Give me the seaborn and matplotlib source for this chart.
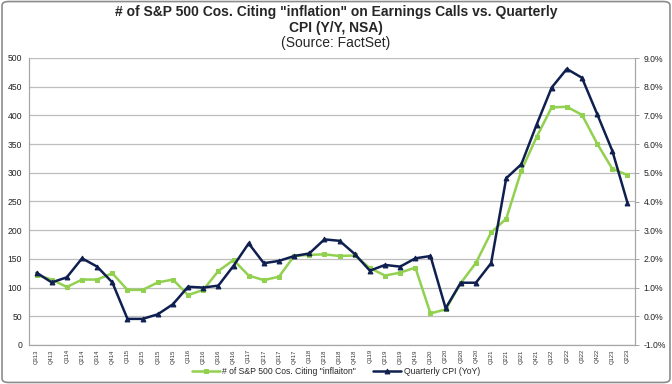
import matplotlib
matplotlib.use("Agg")
import matplotlib.pyplot as plt
from matplotlib.patches import FancyBboxPatch
from matplotlib.ticker import FuncFormatter, MultipleLocator
import pandas as pd
import seaborn as sns

# quarter labels, Q3 2013 .. Q2 2023
quarters = ["Q313", "Q413",
            "Q114", "Q214", "Q314", "Q414",
            "Q115", "Q215", "Q315", "Q415",
            "Q116", "Q216", "Q316", "Q416",
            "Q117", "Q217", "Q317", "Q417",
            "Q118", "Q218", "Q318", "Q418",
            "Q119", "Q219", "Q319", "Q419",
            "Q120", "Q220", "Q320", "Q420",
            "Q121", "Q221", "Q321", "Q421",
            "Q122", "Q222", "Q322", "Q422",
            "Q123", "Q223"]

# number of S&P 500 companies citing "inflation"
cos_citing = [122, 114, 101, 114, 114, 125, 96, 96, 109, 114,
              87, 96, 129, 148, 121, 113, 119, 155, 157, 158,
              155, 156, 134, 121, 126, 135, 55, 62, 108, 143,
              196, 220, 304, 362, 414, 415, 401, 351, 307, 296]

# quarterly CPI, Y/Y %
cpi_yoy = [1.52, 1.18, 1.36, 2.02, 1.73, 1.18, -0.09, -0.09, 0.07, 0.42,
           1.03, 1.00, 1.07, 1.76, 2.54, 1.85, 1.93, 2.10, 2.19, 2.68,
           2.63, 2.17, 1.59, 1.79, 1.73, 2.02, 2.10, 0.28, 1.17, 1.17,
           1.85, 4.81, 5.30, 6.67, 7.97, 8.62, 8.31, 7.05, 5.77, 3.96]

GREEN = "#92d050"
NAVY = "#0f1f4f"

df = pd.DataFrame({"pos": range(len(quarters)), "quarter": quarters,
                   "cos": cos_citing, "cpi": cpi_yoy})

sns.set_style("white")
plt.rcParams["font.family"] = ["Liberation Sans", "DejaVu Sans"]

fig = plt.figure(figsize=(6.72, 3.84), dpi=100)
ax = fig.add_axes([29 / 672, 1 - 345 / 384, 606 / 672, 287 / 384])
ax2 = ax.twinx()

sns.lineplot(data=df, x="pos", y="cos", ax=ax, color=GREEN, lw=1.8,
             marker="s", markersize=3.5, markeredgecolor=GREEN,
             label='# of S&P 500 Cos. Citing "inflaiton"', legend=False)
sns.lineplot(data=df, x="pos", y="cpi", ax=ax2, color=NAVY, lw=1.8,
             marker="^", markersize=3.5, markeredgecolor=NAVY,
             label="Quarterly CPI (YoY)", legend=False)

ax.set_xlim(-0.5, len(quarters) - 0.5)
ax.set_ylim(0, 500)
ax.yaxis.set_major_locator(MultipleLocator(50))
ax2.set_ylim(-1, 9)
ax2.yaxis.set_major_locator(MultipleLocator(1))
ax2.yaxis.set_major_formatter(FuncFormatter(lambda v, p: f"{v:.1f}%"))

ax.set_xticks(df["pos"])
ax.set_xticklabels(quarters, rotation=90, fontsize=4.2, color="#333333")
ax.tick_params(axis="x", length=0, pad=3)
ax.tick_params(axis="y", labelsize=6.2, length=0, pad=5, labelcolor="#222222")
ax2.tick_params(axis="y", labelsize=6.2, length=3, width=0.6, color="#999999",
                pad=3, labelcolor="#222222", right=True)

ax.grid(axis="y", color="#bdbdbd", lw=0.9)
ax.grid(axis="x", visible=False)
ax2.grid(False)
ax.set_zorder(ax2.get_zorder() - 1)
ax.patch.set_visible(True)
ax2.patch.set_visible(False)
for a in (ax, ax2):
    a.set_xlabel("")
    a.set_ylabel("")
    for side in ["left", "right", "bottom"]:
        a.spines[side].set_color("#a6a6a6")
        a.spines[side].set_linewidth(0.8)
    a.spines["top"].set_visible(False)

fig.text(0.5, 1 - 12 / 384,
         '# of S&P 500 Cos. Citing "inflation" on Earnings Calls vs. Quarterly',
         ha="center", va="center", fontsize=10, fontweight="bold")
fig.text(0.5, 1 - 28 / 384, "CPI (Y/Y, NSA)",
         ha="center", va="center", fontsize=10, fontweight="bold")
fig.text(0.5, 1 - 43 / 384, "(Source: FactSet)",
         ha="center", va="center", fontsize=10)

h1, l1 = ax.get_legend_handles_labels()
h2, l2 = ax2.get_legend_handles_labels()
fig.legend(h1 + h2, l1 + l2, loc="center", bbox_to_anchor=(0.5, 1 - 372 / 384),
           ncol=2, frameon=False, fontsize=6.2, handlelength=3.2,
           columnspacing=2.0, handletextpad=0.3)

fig.patches.append(FancyBboxPatch((0.003, 0.004), 0.994, 0.992,
                                  boxstyle="round,pad=0,rounding_size=0.01",
                                  transform=fig.transFigure, fill=False,
                                  edgecolor="#8c8c8c", lw=1.2))

fig.savefig("out.png", dpi=100)
